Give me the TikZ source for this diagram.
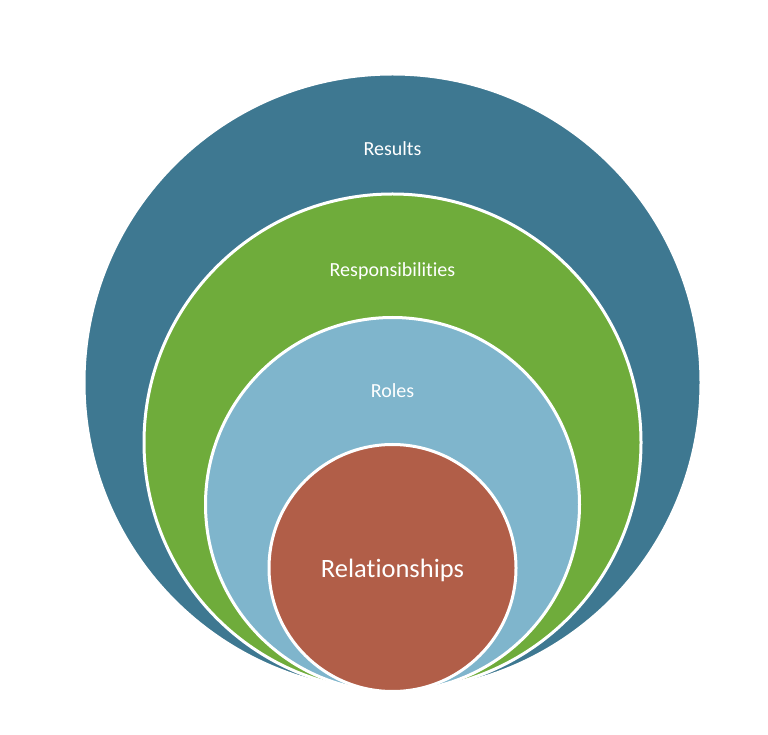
\documentclass[tikz,border=0pt]{standalone}
\usepackage{fontspec}
\setmainfont{Carlito}[Ligatures=NoCommon]
\definecolor{cResults}{HTML}{3E7891}
\definecolor{cResp}{HTML}{6FAC3B}
\definecolor{cRoles}{HTML}{7FB5CC}
\definecolor{cRel}{HTML}{B15E48}
\tikzset{
  ring/.style={draw=white, line width=3pt},
  lbl/.style={text=white, font=\fontsize{20}{24}\selectfont, inner sep=0pt},
  biglbl/.style={text=white, font=\fontsize{26.5}{30}\selectfont, inner sep=0pt}
}
\begin{document}
\begin{tikzpicture}[x=1pt,y=1pt]
\useasboundingbox (0,0) rectangle (768,734);
% y_tikz = 734 - y_img
\filldraw[ring, fill=cResults] (392.5,351.5) circle (308.5);
\filldraw[ring, fill=cResp] (392.5,291.5) circle (248.5);
\filldraw[ring, fill=cRoles] (392.5,229.5) circle (187);
\filldraw[ring, fill=cRel] (392.5,166) circle (123.5);
\node[lbl] (results) at (392.5,585) {Results};
\node[lbl] (resp) at (392.5,463) {Responsibilities};
\node[lbl] (roles) at (392.5,343) {Roles};
\node[biglbl] (rel) at (392.5,164) {Relationships};
\end{tikzpicture}
\end{document}
